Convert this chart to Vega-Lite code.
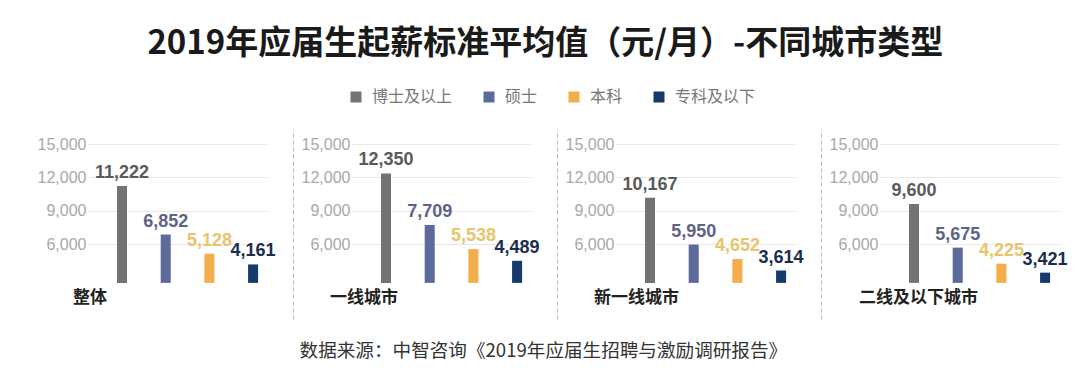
{
  "$schema": "https://vega.github.io/schema/vega-lite/v6.json",
  "autosize": {"type": "pad"},
  "padding": {"left": 37, "top": 28, "right": 5, "bottom": 0},
  "background": "white",
  "data": {"values": [
    {"city": "整体", "edu": "博士及以上", "salary": 11222},
    {"city": "整体", "edu": "硕士", "salary": 6852},
    {"city": "整体", "edu": "本科", "salary": 5128},
    {"city": "整体", "edu": "专科及以下", "salary": 4161},
    {"city": "一线城市", "edu": "博士及以上", "salary": 12350},
    {"city": "一线城市", "edu": "硕士", "salary": 7709},
    {"city": "一线城市", "edu": "本科", "salary": 5538},
    {"city": "一线城市", "edu": "专科及以下", "salary": 4489},
    {"city": "新一线城市", "edu": "博士及以上", "salary": 10167},
    {"city": "新一线城市", "edu": "硕士", "salary": 5950},
    {"city": "新一线城市", "edu": "本科", "salary": 4652},
    {"city": "新一线城市", "edu": "专科及以下", "salary": 3614},
    {"city": "二线及以下城市", "edu": "博士及以上", "salary": 9600},
    {"city": "二线及以下城市", "edu": "硕士", "salary": 5675},
    {"city": "二线及以下城市", "edu": "本科", "salary": 4225},
    {"city": "二线及以下城市", "edu": "专科及以下", "salary": 3421}
  ]},
  "title": {
    "text": "2019年应届生起薪标准平均值（元/月）-不同城市类型",
    "font": "Noto Sans CJK SC", "fontSize": 33, "fontWeight": "bold", "color": "#1a1a1a",
    "anchor": "middle", "offset": 28, "dx": -7
  },
  "vconcat": [{
    "title": {
      "text": "数据来源：中智咨询《2019年应届生招聘与激励调研报告》",
      "orient": "bottom", "anchor": "middle", "font": "Noto Sans CJK SC", "fontSize": 18.6,
      "fontWeight": "normal", "color": "#333333", "offset": 23, "dx": -9
    },
    "spacing": 26,
    "bounds": "flush",
    "hconcat": [
      {
        "width": 179, "height": 190,
        "transform": [{"filter": "datum.city === '整体'"}],
        "encoding": {"x": {"field": "edu", "type": "nominal", "sort": ["博士及以上", "硕士", "本科", "专科及以下"], "axis": null,
          "scale": {"paddingInner": 0.771, "paddingOuter": 0.434, "align": 0.765}}},
        "layer": [
          {"mark": {"type": "bar"},
           "encoding": {
             "y": {"field": "salary", "type": "quantitative", "scale": {"domain": [-750, 16350], "nice": false, "zero": false},
               "axis": {"values": [6000, 9000, 12000, 15000], "format": ",d", "title": null, "domain": false, "ticks": false, "grid": true}},
             "y2": {"datum": 2500},
             "color": {"field": "edu", "type": "nominal", "sort": ["博士及以上", "硕士", "本科", "专科及以下"],
               "scale": {"domain": ["博士及以上", "硕士", "本科", "专科及以下"], "range": ["#737373", "#5d6a9c", "#f2ad4c", "#163a6b"]},
               "legend": {"orient": "none", "legendX": 260, "legendY": -40, "direction": "horizontal", "title": null,
                 "symbolType": "square", "symbolSize": 121, "symbolStrokeWidth": 0, "labelFontSize": 16, "labelColor": "#777777",
                 "labelFont": "Noto Sans CJK SC", "columnPadding": 28, "labelOffset": 8}}
           }},
          {"mark": {"type": "text", "baseline": "bottom", "dy": -4, "fontSize": 18, "fontWeight": "bold", "font": "Liberation Sans"},
           "encoding": {
             "y": {"field": "salary", "type": "quantitative"},
             "text": {"field": "salary", "type": "quantitative", "format": ","},
             "fill": {"field": "edu", "type": "nominal", "legend": null,
               "scale": {"domain": ["博士及以上", "硕士", "本科", "专科及以下"], "range": ["#5a5a5a", "#5e6485", "#e8c46c", "#1b2e4f"]}}
           }},
          {"transform": [{"filter": "datum.edu === '博士及以上'"}],
           "mark": {"type": "text", "align": "left", "baseline": "middle", "dx": -49, "dy": 15, "fontSize": 17, "fontWeight": "bold", "font": "Noto Sans CJK SC", "color": "#222222"},
           "encoding": {"y": {"datum": 2500}, "text": {"field": "city"}}}
        ]
      },
      {
        "width": 33, "height": 190,
        "mark": {"type": "point", "opacity": 0},
        "encoding": {"y": {"field": "salary", "type": "quantitative", "scale": {"domain": [-750, 16350], "nice": false, "zero": false},
          "axis": {"orient": "left", "labels": false, "ticks": false, "grid": false, "domain": true, "domainDash": [4, 3], "domainColor": "#b8b8b8", "domainWidth": 1, "title": null}}}
      },
      {
        "width": 179, "height": 190,
        "transform": [{"filter": "datum.city === '一线城市'"}],
        "encoding": {"x": {"field": "edu", "type": "nominal", "sort": ["博士及以上", "硕士", "本科", "专科及以下"], "axis": null,
          "scale": {"paddingInner": 0.771, "paddingOuter": 0.434, "align": 0.765}}},
        "layer": [
          {"mark": {"type": "bar"},
           "encoding": {
             "y": {"field": "salary", "type": "quantitative", "scale": {"domain": [-750, 16350], "nice": false, "zero": false},
               "axis": {"values": [6000, 9000, 12000, 15000], "format": ",d", "title": null, "domain": false, "ticks": false, "grid": true}},
             "y2": {"datum": 2500},
             "color": {"field": "edu", "type": "nominal", "sort": ["博士及以上", "硕士", "本科", "专科及以下"],
               "scale": {"domain": ["博士及以上", "硕士", "本科", "专科及以下"], "range": ["#737373", "#5d6a9c", "#f2ad4c", "#163a6b"]}}
           }},
          {"mark": {"type": "text", "baseline": "bottom", "dy": -4, "fontSize": 18, "fontWeight": "bold", "font": "Liberation Sans"},
           "encoding": {
             "y": {"field": "salary", "type": "quantitative"},
             "text": {"field": "salary", "type": "quantitative", "format": ","},
             "fill": {"field": "edu", "type": "nominal", "legend": null,
               "scale": {"domain": ["博士及以上", "硕士", "本科", "专科及以下"], "range": ["#5a5a5a", "#5e6485", "#e8c46c", "#1b2e4f"]}}
           }},
          {"transform": [{"filter": "datum.edu === '博士及以上'"}],
           "mark": {"type": "text", "align": "left", "baseline": "middle", "dx": -56, "dy": 15, "fontSize": 17, "fontWeight": "bold", "font": "Noto Sans CJK SC", "color": "#222222"},
           "encoding": {"y": {"datum": 2500}, "text": {"field": "city"}}}
        ]
      },
      {
        "width": 33, "height": 190,
        "mark": {"type": "point", "opacity": 0},
        "encoding": {"y": {"field": "salary", "type": "quantitative", "scale": {"domain": [-750, 16350], "nice": false, "zero": false},
          "axis": {"orient": "left", "labels": false, "ticks": false, "grid": false, "domain": true, "domainDash": [4, 3], "domainColor": "#b8b8b8", "domainWidth": 1, "title": null}}}
      },
      {
        "width": 179, "height": 190,
        "transform": [{"filter": "datum.city === '新一线城市'"}],
        "encoding": {"x": {"field": "edu", "type": "nominal", "sort": ["博士及以上", "硕士", "本科", "专科及以下"], "axis": null,
          "scale": {"paddingInner": 0.771, "paddingOuter": 0.434, "align": 0.765}}},
        "layer": [
          {"mark": {"type": "bar"},
           "encoding": {
             "y": {"field": "salary", "type": "quantitative", "scale": {"domain": [-750, 16350], "nice": false, "zero": false},
               "axis": {"values": [6000, 9000, 12000, 15000], "format": ",d", "title": null, "domain": false, "ticks": false, "grid": true}},
             "y2": {"datum": 2500},
             "color": {"field": "edu", "type": "nominal", "sort": ["博士及以上", "硕士", "本科", "专科及以下"],
               "scale": {"domain": ["博士及以上", "硕士", "本科", "专科及以下"], "range": ["#737373", "#5d6a9c", "#f2ad4c", "#163a6b"]}}
           }},
          {"mark": {"type": "text", "baseline": "bottom", "dy": -4, "fontSize": 18, "fontWeight": "bold", "font": "Liberation Sans"},
           "encoding": {
             "y": {"field": "salary", "type": "quantitative"},
             "text": {"field": "salary", "type": "quantitative", "format": ","},
             "fill": {"field": "edu", "type": "nominal", "legend": null,
               "scale": {"domain": ["博士及以上", "硕士", "本科", "专科及以下"], "range": ["#5a5a5a", "#5e6485", "#e8c46c", "#1b2e4f"]}}
           }},
          {"transform": [{"filter": "datum.edu === '博士及以上'"}],
           "mark": {"type": "text", "align": "left", "baseline": "middle", "dx": -56, "dy": 15, "fontSize": 17, "fontWeight": "bold", "font": "Noto Sans CJK SC", "color": "#222222"},
           "encoding": {"y": {"datum": 2500}, "text": {"field": "city"}}}
        ]
      },
      {
        "width": 33, "height": 190,
        "mark": {"type": "point", "opacity": 0},
        "encoding": {"y": {"field": "salary", "type": "quantitative", "scale": {"domain": [-750, 16350], "nice": false, "zero": false},
          "axis": {"orient": "left", "labels": false, "ticks": false, "grid": false, "domain": true, "domainDash": [4, 3], "domainColor": "#b8b8b8", "domainWidth": 1, "title": null}}}
      },
      {
        "width": 179, "height": 190,
        "transform": [{"filter": "datum.city === '二线及以下城市'"}],
        "encoding": {"x": {"field": "edu", "type": "nominal", "sort": ["博士及以上", "硕士", "本科", "专科及以下"], "axis": null,
          "scale": {"paddingInner": 0.771, "paddingOuter": 0.434, "align": 0.765}}},
        "layer": [
          {"mark": {"type": "bar"},
           "encoding": {
             "y": {"field": "salary", "type": "quantitative", "scale": {"domain": [-750, 16350], "nice": false, "zero": false},
               "axis": {"values": [6000, 9000, 12000, 15000], "format": ",d", "title": null, "domain": false, "ticks": false, "grid": true}},
             "y2": {"datum": 2500},
             "color": {"field": "edu", "type": "nominal", "sort": ["博士及以上", "硕士", "本科", "专科及以下"],
               "scale": {"domain": ["博士及以上", "硕士", "本科", "专科及以下"], "range": ["#737373", "#5d6a9c", "#f2ad4c", "#163a6b"]}}
           }},
          {"mark": {"type": "text", "baseline": "bottom", "dy": -4, "fontSize": 18, "fontWeight": "bold", "font": "Liberation Sans"},
           "encoding": {
             "y": {"field": "salary", "type": "quantitative"},
             "text": {"field": "salary", "type": "quantitative", "format": ","},
             "fill": {"field": "edu", "type": "nominal", "legend": null,
               "scale": {"domain": ["博士及以上", "硕士", "本科", "专科及以下"], "range": ["#5a5a5a", "#5e6485", "#e8c46c", "#1b2e4f"]}}
           }},
          {"transform": [{"filter": "datum.edu === '博士及以上'"}],
           "mark": {"type": "text", "align": "left", "baseline": "middle", "dx": -55, "dy": 15, "fontSize": 17, "fontWeight": "bold", "font": "Noto Sans CJK SC", "color": "#222222"},
           "encoding": {"y": {"datum": 2500}, "text": {"field": "city"}}}
        ]
      }
    ]
  }],
  "config": {
    "view": {"stroke": null},
    "axis": {"labelFont": "Liberation Sans", "labelFontSize": 16, "labelColor": "#a8a8a8", "labelPadding": 2, "gridColor": "#e8e8e8", "gridWidth": 1}
  }
}
